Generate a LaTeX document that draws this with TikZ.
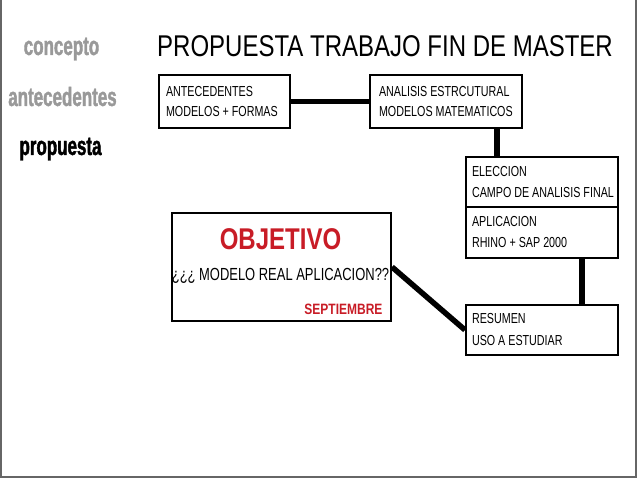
\documentclass[tikz,border=0pt]{standalone}
\usepackage{fontspec}
\setmainfont{Liberation Sans}
\newfontfamily\narrowsf[FakeStretch=0.8]{Liberation Sans}
\newfontfamily\boxsf[FakeStretch=0.74]{Liberation Sans}
\newfontfamily\slimsf[FakeStretch=0.64,BoldFeatures={FakeBold=1.5}]{Liberation Sans}
\usetikzlibrary{calc}
\definecolor{objred}{RGB}{200,28,38}

\begin{document}
\begin{tikzpicture}[x=1pt,y=-1pt,
  box/.style={draw, line width=2pt, anchor=north west, inner xsep=7pt, inner ysep=0pt,
    align=flush left, font=\boxsf\fontsize{14.5}{20.5}\selectfont},
  link/.style={line width=5.5pt},
  menu/.style={anchor=base, font=\slimsf\bfseries\fontsize{26.5}{26.5}\selectfont}]
\useasboundingbox (0,0) rectangle (638,478);
% Draw the frame of the slide
\draw[black!60, line width=2pt] (1,0) -- (1,477) -- (636,477) -- (636,0);
% Draw the menu on the left
\node[menu, text=black!40] (concepto) at (61.5,55) {concepto};
\node[menu, text=black!40] (antecedentes) at (62.5,106) {antecedentes};
\node[menu] (propuesta) at (60.5,155) {propuesta};
% Draw the title
\node[anchor=base, font=\narrowsf\fontsize{30}{30}\selectfont] (titulo) at (385,57) {PROPUESTA TRABAJO FIN DE MASTER};
% Draw the boxes
\node[box, text width=117pt, minimum height=53pt] (antec) at (158,74) {ANTECEDENTES\\MODELOS + FORMAS};
\node[box, inner xsep=9pt, text width=134pt, minimum height=53pt] (analisis) at (369,74) {ANALISIS ESTRCUTURAL\\\mbox{MODELOS MATEMATICOS}};
\node[box, inner xsep=6pt, text width=140pt, minimum height=50pt, font=\boxsf\fontsize{14.5}{21}\selectfont] (eleccion) at (465,156) {ELECCION\\\mbox{CAMPO DE ANALISIS FINAL}};
\node[box, inner xsep=6pt, text width=140pt, minimum height=51pt, font=\boxsf\fontsize{14.5}{21}\selectfont] (aplicacion) at (465,206) {APLICACION\\RHINO + SAP 2000};
\node[box, inner xsep=6pt, text width=140pt, minimum height=50pt, font=\boxsf\fontsize{14.5}{22}\selectfont] (resumen) at (465,304) {RESUMEN\\USO A ESTUDIAR};
% Draw the objective box and its texts
\node[draw, line width=2pt, anchor=north west, minimum width=219pt, minimum height=108pt] (objetivo) at (171,212) {};
\node[anchor=base, text=objred, font=\narrowsf\bfseries\fontsize{30}{30}\selectfont] (objtitulo) at (280.5,250) {OBJETIVO};
\node[anchor=base, font=\boxsf\fontsize{17.5}{17.5}\selectfont] (pregunta) at (280.5,281) {¿¿¿ MODELO REAL APLICACION??};
\node[anchor=base east, text=objred, font=\narrowsf\bfseries\fontsize{15}{15}\selectfont] (fecha) at (386,315) {SEPTIEMBRE};
% Draw the connectors
\draw[link] (antec) -- (analisis);
\draw[link] ($(analisis.south west)!0.83!(analisis.south east)$) coordinate (bajada) -- (bajada |- eleccion.north);
\draw[link] ($(aplicacion.south west)!0.76!(aplicacion.south east)$) coordinate (bajada2) -- (bajada2 |- resumen.north);
\draw[link] (objetivo.east) -- (resumen.west);
\end{tikzpicture}
\end{document}
